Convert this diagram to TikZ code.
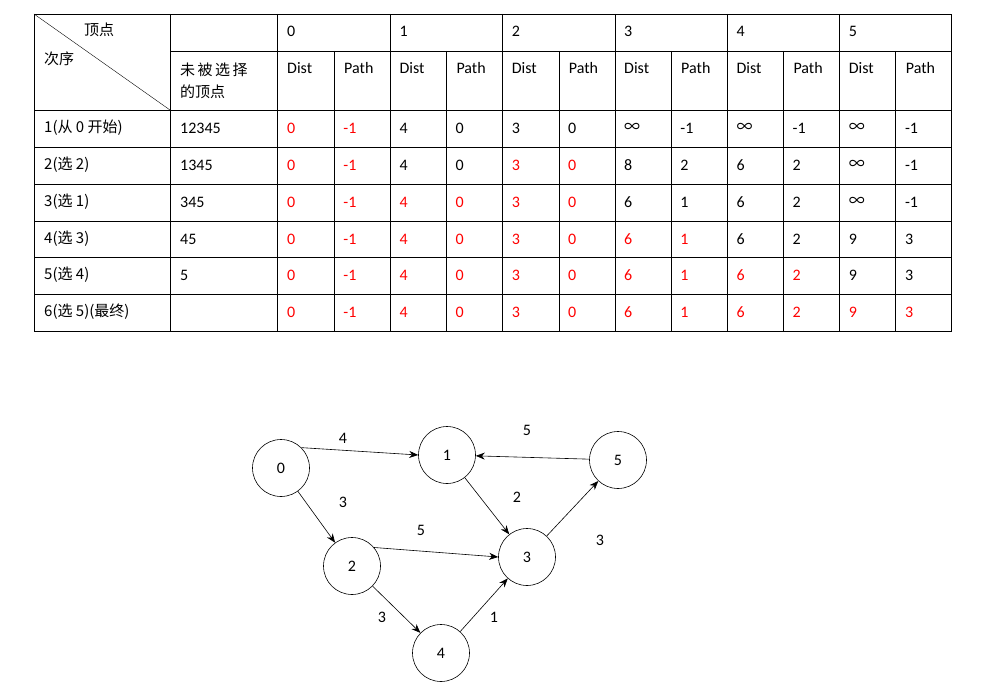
\documentclass[tikz,border=0pt]{standalone}
\usepackage{fontspec}
\setmainfont{Carlito}
\newfontfamily\cjk{Noto Sans CJK SC}
\usetikzlibrary{arrows.meta}
\begin{document}
\begin{tikzpicture}[x=1pt,y=-1pt,
  cell/.style={anchor=west,inner sep=0pt,font=\fontsize{16}{19}\selectfont},
  ccell/.style={anchor=west,inner sep=0pt,font=\cjk\fontsize{15}{22}\selectfont},
  vert/.style={circle,draw,semithick,minimum size=57pt,inner sep=0pt,font=\fontsize{16}{19}\selectfont},
  lab/.style={inner sep=0pt,font=\fontsize{16}{19}\selectfont},
  edge/.style={-{Stealth[length=9pt,width=7pt]},semithick}]
\useasboundingbox (0,0) rectangle (996,695);
% grid
\draw (34,14) rectangle (951,331);
\draw (170,51) -- (951,51);
\foreach \y in {110,147,184,221,257,294}{\draw (34,\y) -- (951,\y);}
\foreach \x in {170,277,390,502,615,727,839}{\draw (\x,14) -- (\x,331);}
\foreach \x in {334,446,559,671,783,895}{\draw (\x,51) -- (\x,331);}
\draw (34,14) -- (170,110);
\node[ccell] (h1) at (84,30) {顶点};
\node[ccell] (h2) at (44,59) {次序};
\node[ccell,align=left] (h3) at (180,81) {未\,被\,选\,择\\的顶点};
\foreach \i in {0,...,5}{
  \pgfmathsetmacro\xa{287+112.33*\i}
  \pgfmathsetmacro\xb{344+112.33*\i}
  \node[cell] (c\i) at (\xa,31) {\i};
  \node[cell] (d\i) at (\xa,68) {Dist};
  \node[cell] (p\i) at (\xb,68) {Path};
}
\def\inf{{\cjk ∞}}
\foreach \r/\b/\yy/\v [count=\k] in {
 {1(从 0 开始)}/12345/128/{0,-1,4,0,3,0,\inf,-1,\inf,-1,\inf,-1},
 {2(选 2)}/1345/165/{0,-1,4,0,3,0,8,2,6,2,\inf,-1},
 {3(选 1)}/345/202/{0,-1,4,0,3,0,6,1,6,2,\inf,-1},
 {4(选 3)}/45/239/{0,-1,4,0,3,0,6,1,6,2,9,3},
 {5(选 4)}/5/275/{0,-1,4,0,3,0,6,1,6,2,9,3},
 {6(选 5)(最终)}//312/{0,-1,4,0,3,0,6,1,6,2,9,3}}{
  \node[ccell] (r\k) at (44,\yy) {\r};
  \node[cell] (u\k) at (180,\yy) {\b};
  \foreach \val [count=\j from 0] in \v {
    \pgfmathtruncatemacro\pr{int(\j/2)}
    \pgfmathtruncatemacro\isred{(\k!=2)*(\pr<\k) + (\k==2)*((\pr==0)||(\pr==2))}
    \pgfmathsetmacro\xx{287+56.17*\j}
    \ifnum\isred>0 \def\col{red}\else\def\col{black}\fi
    \node[cell,text=\col] (v\k-\j) at (\xx,\yy) {\val};
  }
}
% graph
\node[vert] (n0) at (281,468) {0};
\node[vert] (n1) at (447,455) {1};
\node[vert] (n5) at (618,460) {5};
\node[vert] (n2) at (352,566) {2};
\node[vert] (n3) at (527,557) {3};
\node[vert] (n4) at (441,653) {4};
\draw[edge] (n0.45) -- (n1.west);
\draw[edge] (n5) -- (n1);
\draw[edge] (n0) -- (n2);
\draw[edge] (n1) -- (n3);
\draw[edge] (n2.40) -- (n3.west);
\draw[edge] (n3) -- (n5);
\draw[edge] (n2) -- (n4);
\draw[edge] (n4) -- (n3);
\node[lab] (l1) at (343,438) {4};
\node[lab] (l2) at (527,430) {5};
\node[lab] (l3) at (343,502) {3};
\node[lab] (l4) at (517,497) {2};
\node[lab] (l5) at (421,530) {5};
\node[lab] (l6) at (600,540) {3};
\node[lab] (l7) at (382,617) {3};
\node[lab] (l8) at (494,617) {1};
\end{tikzpicture}
\end{document}
